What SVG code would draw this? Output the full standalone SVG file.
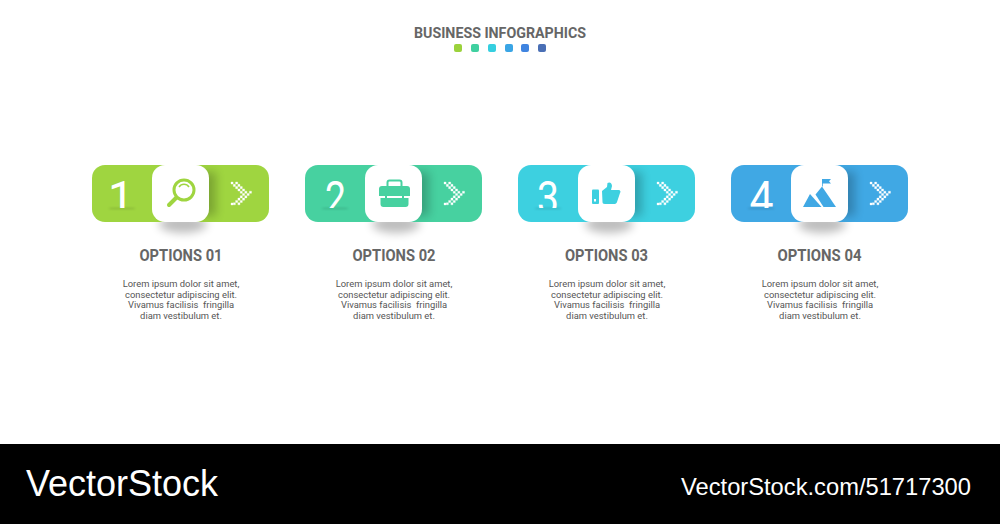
<svg xmlns="http://www.w3.org/2000/svg" width="1000" height="524" viewBox="0 0 1000 524">
<style>
.title{font:700 15.300px Roboto,"Liberation Sans",sans-serif;fill:#666;text-anchor:middle}
.head{font:700 16.300px Roboto,"Liberation Sans",sans-serif;fill:#666;text-anchor:middle}
.body{font:400 9.400px Roboto,"Liberation Sans",sans-serif;fill:#555;text-anchor:middle;white-space:pre}
.num{font:400 46px Roboto,"Liberation Sans",sans-serif;fill:#fff;text-anchor:middle}
.wm{font-family:"Liberation Sans",Arial,sans-serif;fill:#fff}
</style>
<defs>
<filter id="b" x="-60%" y="-100%" width="220%" height="300%"><feGaussianBlur stdDeviation="5"/></filter>
<filter id="b2" x="-20%" y="-300%" width="140%" height="700%"><feGaussianBlur stdDeviation=".8"/></filter>
<clipPath id="below"><rect x="60" y="222" width="240" height="40"/></clipPath>
<clipPath id="cardclip"><rect x="92" y="165" width="177" height="57" rx="13"/></clipPath>
<clipPath id="numclip"><rect x="100" y="170" width="45" height="38"/></clipPath>
<g id="shell">
<g clip-path="url(#below)"><ellipse cx="183" cy="224" rx="24" ry="9" fill="#000" opacity=".26" filter="url(#b)"/></g>
<g clip-path="url(#cardclip)"><rect x="198" y="172" width="18" height="44" fill="#000" opacity=".22" filter="url(#b)"/></g>
<ellipse cx="122" cy="208.500" rx="14" ry=".6" fill="#000" opacity=".2" filter="url(#b2)"/>
</g>
<path id="chev" fill="#fff" stroke="#fff" stroke-width=".3" d="M231 182h2.100v2.100h-2.100zM235.600 182h2.100v2.100h-2.100zM233.300 184.300h2.100v2.100h-2.100zM237.900 184.300h2.100v2.100h-2.100zM235.600 186.600h2.100v2.100h-2.100zM240.200 186.600h2.100v2.100h-2.100zM237.900 188.900h2.100v2.100h-2.100zM242.500 188.900h2.100v2.100h-2.100zM240.200 191.200h2.100v2.100h-2.100zM244.800 191.200h2.100v2.100h-2.100zM242.500 193.500h2.100v2.100h-2.100zM247.100 193.500h2.100v2.100h-2.100zM249.400 191.200h2.100v2.100h-2.100zM240.200 195.800h2.100v2.100h-2.100zM244.800 195.800h2.100v2.100h-2.100zM237.900 198.100h2.100v2.100h-2.100zM242.500 198.100h2.100v2.100h-2.100zM235.600 200.400h2.100v2.100h-2.100zM240.200 200.400h2.100v2.100h-2.100zM233.300 202.700h2.100v2.100h-2.100zM237.900 202.700h2.100v2.100h-2.100zM231 205h2.100v-2.100h-2.100z"/>
</defs>
<rect width="1000" height="524" fill="#fff"/>
<g id="header">
<text class="title" x="500" y="37.500" textLength="172" lengthAdjust="spacingAndGlyphs">BUSINESS INFOGRAPHICS</text>
<rect x="454" y="44" width="8" height="8" rx="2" fill="#9bd23c"/>
<rect x="471" y="44" width="8" height="8" rx="2" fill="#3fd0a0"/>
<rect x="488" y="44" width="8" height="8" rx="2" fill="#35cfe0"/>
<rect x="505" y="44" width="8" height="8" rx="2" fill="#3aa5e5"/>
<rect x="521" y="44" width="8" height="8" rx="2" fill="#3f84e0"/>
<rect x="538" y="44" width="8" height="8" rx="2" fill="#4a6fb5"/>
</g>
<g id="connectors"></g>
<g id="node1">
<rect x="92" y="165" width="177" height="57" rx="13" fill="#9fd540"/>
<use href="#shell"/>
<g clip-path="url(#numclip)"><text class="num" x="121" y="214">1</text></g>
<use href="#chev"/>
<rect x="152" y="165" width="57" height="57" rx="13" fill="#fff"/>
<circle cx="184" cy="190" r="10" fill="none" stroke="#9fd540" stroke-width="3"/>
<path d="M179 187a6 6 0 0 1 10 0" fill="none" stroke="#9fd540" stroke-width="1.500"/>
<path d="M176 198l-7 7" fill="none" stroke="#9fd540" stroke-width="4" stroke-linecap="round"/>
<text class="head" x="181" y="261" textLength="83" lengthAdjust="spacingAndGlyphs">OPTIONS 01</text>
<text class="body" x="181" y="286.700">Lorem ipsum dolor sit amet,</text>
<text class="body" x="181" y="297.500">consectetur adipiscing elit.</text>
<text class="body" x="181" y="308.300">Vivamus facilisis  fringilla</text>
<text class="body" x="181" y="319">diam vestibulum et.</text>
</g>
<g id="node2" transform="translate(213 0)">
<rect x="92" y="165" width="177" height="57" rx="13" fill="#47d1a0"/>
<use href="#shell"/>
<g clip-path="url(#numclip)"><text class="num" x="122.500" y="214" textLength="21" lengthAdjust="spacingAndGlyphs">2</text></g>
<use href="#chev"/>
<rect x="152" y="165" width="57" height="57" rx="13" fill="#fff"/>
<path d="M174.500 186v-3.500a2 2 0 0 1 2-2h10a2 2 0 0 1 2 2v3.500" fill="none" stroke="#47d1a0" stroke-width="2"/>
<path d="M166 189a3 3 0 0 1 3-3h25a3 3 0 0 1 3 3v7h-31z" fill="#47d1a0"/>
<path d="M167.500 198h28v6a3 3 0 0 1-3 3h-22a3 3 0 0 1-3-3z" fill="#47d1a0"/>
<rect x="172" y="196" width="2" height="3.500" fill="#47d1a0"/><rect x="189" y="196" width="2" height="3.500" fill="#47d1a0"/>
<text class="head" x="181" y="261" textLength="83" lengthAdjust="spacingAndGlyphs">OPTIONS 02</text>
<text class="body" x="181" y="286.700">Lorem ipsum dolor sit amet,</text>
<text class="body" x="181" y="297.500">consectetur adipiscing elit.</text>
<text class="body" x="181" y="308.300">Vivamus facilisis  fringilla</text>
<text class="body" x="181" y="319">diam vestibulum et.</text>
</g>
<g id="node3" transform="translate(426 0)">
<rect x="92" y="165" width="177" height="57" rx="13" fill="#3dd0e0"/>
<use href="#shell"/>
<g clip-path="url(#numclip)"><text class="num" x="122" y="214" textLength="22" lengthAdjust="spacingAndGlyphs">3</text></g>
<use href="#chev"/>
<rect x="152" y="165" width="57" height="57" rx="13" fill="#fff"/>
<path d="M167 189.500h5a1 1 0 0 1 1 1v12.500a1 1 0 0 1-1 1h-5a1 1 0 0 1-1-1v-12.500a1 1 0 0 1 1-1z" fill="#3dd0e0"/>
<rect x="168" y="199" width="2" height="2.500" fill="#fff"/>
<path d="M176 191l5-4 .5-4c2.500-1.500 4.500.5 4.500 3l-1 4h7.500c2 0 2.500 2 1.500 3l-3 9c-.5 1.500-1.500 2-3 2h-9c-2 0-2.500-1-2.500-2z" fill="#3dd0e0"/>
<text class="head" x="180.500" y="261" textLength="83" lengthAdjust="spacingAndGlyphs">OPTIONS 03</text>
<text class="body" x="181" y="286.700">Lorem ipsum dolor sit amet,</text>
<text class="body" x="181" y="297.500">consectetur adipiscing elit.</text>
<text class="body" x="181" y="308.300">Vivamus facilisis  fringilla</text>
<text class="body" x="181" y="319">diam vestibulum et.</text>
</g>
<g id="node4" transform="translate(639 0)">
<rect x="92" y="165" width="177" height="57" rx="13" fill="#40a8e4"/>
<use href="#shell"/>
<g clip-path="url(#numclip)"><text class="num" x="122.500" y="214" textLength="24" lengthAdjust="spacingAndGlyphs">4</text></g>
<use href="#chev"/>
<rect x="152" y="165" width="57" height="57" rx="13" fill="#fff"/>
<path d="M183 186.500L197 207H184.500L176.500 194.500z" fill="#40a8e4"/>
<path d="M171 194L182.500 207H164z" fill="#40a8e4"/>
<path d="M183 179h9l-2 2.200 2 2.300h-8.200v3h-.8z" fill="#40a8e4"/>
<text class="head" x="180.500" y="261" textLength="84" lengthAdjust="spacingAndGlyphs">OPTIONS 04</text>
<text class="body" x="181" y="286.700">Lorem ipsum dolor sit amet,</text>
<text class="body" x="181" y="297.500">consectetur adipiscing elit.</text>
<text class="body" x="181" y="308.300">Vivamus facilisis  fringilla</text>
<text class="body" x="181" y="319">diam vestibulum et.</text>
</g>
<g id="footer">
<rect y="444" width="1000" height="80" fill="#000"/>
<text class="wm" x="26" y="496" font-size="36" textLength="192" lengthAdjust="spacingAndGlyphs">VectorStock</text>
<text class="wm" x="681" y="495" font-size="24" textLength="290" lengthAdjust="spacingAndGlyphs">VectorStock.com/51717300</text>
</g>
</svg>
